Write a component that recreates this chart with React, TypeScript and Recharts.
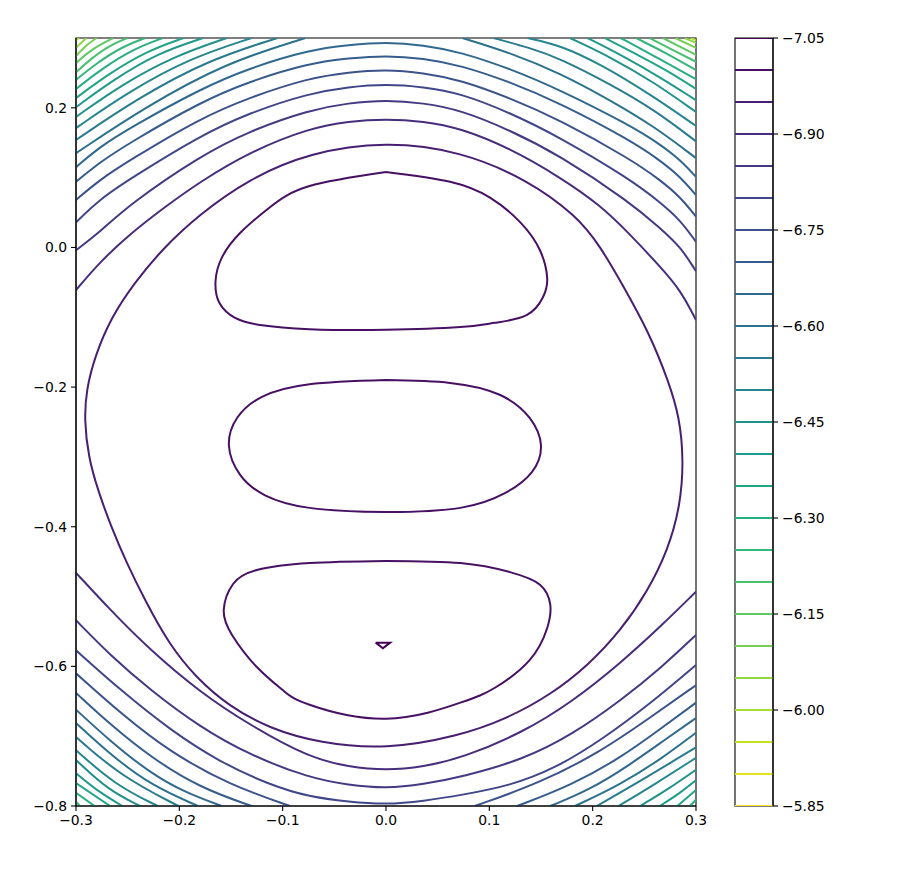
import React from 'react';
import { LineChart, Line, XAxis, YAxis, ReferenceArea } from 'recharts';

type P = [number, number];

// contour levels (colorbar) and their colours
const LEVELS = [-7.05, -7.0, -6.95, -6.9, -6.85, -6.8, -6.75, -6.7, -6.65, -6.6, -6.55, -6.5, -6.45, -6.4, -6.35, -6.3, -6.25, -6.2, -6.15, -6.1, -6.05, -6.0, -5.95, -5.9, -5.85];
const VIRIDIS = ['#440154', '#471063', '#481f70', '#472d7b', '#443983', '#404688', '#3b528b', '#365d8d', '#31688e', '#2c728e', '#287c8e', '#24868e', '#21918c', '#1f9a8a', '#20a486', '#28ae80', '#35b779', '#48c16e', '#5ec962', '#75d054', '#90d743', '#addc30', '#c8e020', '#e5e419', '#fde725'];
const CB_TICKS = [-7.05, -6.9, -6.75, -6.6, -6.45, -6.3, -6.15, -6.0, -5.85];
const X_TICKS = [-0.3, -0.2, -0.1, 0.0, 0.1, 0.2, 0.3];
const Y_TICKS = [-0.8, -0.6, -0.4, -0.2, 0.0, 0.2];

// ---- contour traces (x, y) ----
const c705: P[] = [[-0.010, -0.566], [0.004, -0.566], [-0.003, -0.574], [-0.010, -0.566]];

const c700top: P[] = [[0, 0.108], [0.062, 0.094], [0.101, 0.071], [0.130, 0.036], [0.149, -0.004], [0.156, -0.044], [0.152, -0.071], [0.136, -0.097], [0.105, -0.108], [0.072, -0.114], [0, -0.118], [-0.074, -0.117], [-0.122, -0.111], [-0.146, -0.101], [-0.161, -0.080], [-0.165, -0.049], [-0.159, -0.015], [-0.141, 0.021], [-0.112, 0.058], [-0.074, 0.088], [0, 0.108]];
const c700mid: P[] = [[0, -0.190], [0.062, -0.194], [0.110, -0.211], [0.139, -0.244], [0.150, -0.284], [0.141, -0.322], [0.115, -0.352], [0.072, -0.373], [0, -0.379], [-0.074, -0.373], [-0.117, -0.355], [-0.141, -0.326], [-0.152, -0.284], [-0.144, -0.244], [-0.120, -0.214], [-0.074, -0.196], [0, -0.190]];
const c700bot: P[] = [[0, -0.449], [0.072, -0.452], [0.120, -0.465], [0.149, -0.483], [0.159, -0.512], [0.156, -0.545], [0.139, -0.591], [0.105, -0.631], [0.072, -0.652], [0, -0.675], [-0.074, -0.655], [-0.100, -0.634], [-0.125, -0.601], [-0.149, -0.555], [-0.157, -0.519], [-0.148, -0.482], [-0.125, -0.462], [-0.074, -0.452], [0, -0.449]];

// closed loop, traced once (basisClosed joins the ends)
const c695: P[] = [[0, 0.152], [0.072, 0.138], [0.136, 0.098], [0.185, 0.045], [0.208, 0.000], [0.228, -0.051], [0.255, -0.123], [0.274, -0.194], [0.284, -0.243], [0.288, -0.304], [0.285, -0.369], [0.273, -0.433], [0.253, -0.493], [0.227, -0.549], [0.196, -0.598], [0.160, -0.640], [0.117, -0.675], [0.070, -0.700], [0, -0.719], [-0.064, -0.710], [-0.113, -0.689], [-0.152, -0.657], [-0.184, -0.616], [-0.210, -0.568], [-0.232, -0.509], [-0.251, -0.452], [-0.266, -0.400], [-0.279, -0.347], [-0.288, -0.300], [-0.292, -0.247], [-0.290, -0.204], [-0.282, -0.157], [-0.266, -0.100], [-0.243, -0.050], [-0.217, -0.003], [-0.181, 0.047], [-0.133, 0.098], [-0.074, 0.136]];

const c690top: P[] = [[-0.300, -0.061], [-0.277, -0.021], [-0.248, 0.019], [-0.214, 0.058], [-0.180, 0.094], [-0.132, 0.137], [-0.074, 0.171], [-0.036, 0.181], [0, 0.184], [0.036, 0.181], [0.072, 0.171], [0.120, 0.142], [0.168, 0.101], [0.207, 0.061], [0.236, 0.019], [0.265, -0.027], [0.285, -0.061], [0.300, -0.104]];
const c685top: P[] = [[-0.300, -0.004], [-0.277, 0.022], [-0.248, 0.062], [-0.180, 0.131], [-0.132, 0.167], [-0.074, 0.197], [-0.036, 0.207], [0, 0.211], [0.036, 0.207], [0.072, 0.197], [0.120, 0.168], [0.168, 0.132], [0.236, 0.065], [0.265, 0.028], [0.285, 0.001], [0.300, -0.034]];
const c680top: P[] = [[-0.300, 0.036], [-0.277, 0.069], [-0.248, 0.098], [-0.180, 0.160], [-0.132, 0.193], [-0.074, 0.221], [-0.036, 0.230], [0, 0.234], [0.036, 0.230], [0.072, 0.221], [0.120, 0.193], [0.168, 0.158], [0.236, 0.098], [0.265, 0.065], [0.285, 0.039], [0.300, 0.008]];
const c675top: P[] = [[-0.300, 0.068], [-0.277, 0.097], [-0.248, 0.125], [-0.180, 0.185], [-0.132, 0.215], [-0.074, 0.243], [-0.036, 0.251], [0, 0.255], [0.036, 0.250], [0.072, 0.240], [0.120, 0.214], [0.168, 0.183], [0.236, 0.127], [0.265, 0.097], [0.285, 0.072], [0.300, 0.044]];
const c670top: P[] = [[-0.300, 0.094], [-0.277, 0.122], [-0.248, 0.150], [-0.180, 0.208], [-0.132, 0.238], [-0.074, 0.264], [-0.036, 0.271], [0, 0.275], [0.036, 0.271], [0.072, 0.261], [0.120, 0.237], [0.168, 0.207], [0.236, 0.154], [0.265, 0.125], [0.285, 0.101], [0.300, 0.075]];
const c665top: P[] = [[-0.300, 0.115], [-0.277, 0.144], [-0.248, 0.171], [-0.180, 0.227], [-0.132, 0.257], [-0.074, 0.283], [-0.036, 0.290], [0, 0.294], [0.036, 0.290], [0.072, 0.280], [0.120, 0.256], [0.168, 0.226], [0.236, 0.175], [0.265, 0.148], [0.285, 0.125], [0.300, 0.101]];

const c660tl: P[] = [[-0.300, 0.135], [-0.233, 0.201], [-0.156, 0.264], [-0.078, 0.300]];
const c655tl: P[] = [[-0.300, 0.154], [-0.241, 0.213], [-0.173, 0.268], [-0.105, 0.300]];
const c650tl: P[] = [[-0.300, 0.171], [-0.249, 0.223], [-0.190, 0.271], [-0.130, 0.300]];
const c645tl: P[] = [[-0.300, 0.187], [-0.256, 0.233], [-0.205, 0.274], [-0.154, 0.300]];
const c640tl: P[] = [[-0.300, 0.201], [-0.263, 0.241], [-0.220, 0.279], [-0.177, 0.300]];
const c635tl: P[] = [[-0.300, 0.214], [-0.269, 0.248], [-0.232, 0.281], [-0.196, 0.300]];
const c630tl: P[] = [[-0.300, 0.227], [-0.275, 0.256], [-0.245, 0.284], [-0.216, 0.300]];
const c625tl: P[] = [[-0.300, 0.240], [-0.280, 0.264], [-0.256, 0.287], [-0.233, 0.300]];
const c620tl: P[] = [[-0.300, 0.251], [-0.285, 0.271], [-0.267, 0.290], [-0.250, 0.300]];
const c615tl: P[] = [[-0.300, 0.264], [-0.285, 0.284], [-0.264, 0.300]];
const c610tl: P[] = [[-0.300, 0.274], [-0.291, 0.289], [-0.280, 0.300]];
const c605tl: P[] = [[-0.300, 0.286], [-0.290, 0.300]];
const c600tl: P[] = [[-0.300, 0.297], [-0.297, 0.300]];

const c660tr: P[] = [[0.074, 0.300], [0.120, 0.279], [0.168, 0.250], [0.217, 0.211], [0.260, 0.173], [0.300, 0.128]];
const c655tr: P[] = [[0.104, 0.300], [0.139, 0.286], [0.168, 0.271], [0.217, 0.234], [0.260, 0.197], [0.300, 0.152]];
const c650tr: P[] = [[0.137, 0.300], [0.168, 0.290], [0.207, 0.263], [0.255, 0.220], [0.300, 0.174]];
const c645tr: P[] = [[0.178, 0.300], [0.217, 0.273], [0.260, 0.236], [0.300, 0.194]];
const c640tr: P[] = [[0.195, 0.300], [0.231, 0.273], [0.265, 0.244], [0.300, 0.211]];
const c635tr: P[] = [[0.212, 0.300], [0.246, 0.274], [0.275, 0.251], [0.300, 0.227]];
const c630tr: P[] = [[0.227, 0.300], [0.265, 0.270], [0.300, 0.241]];
const c625tr: P[] = [[0.242, 0.300], [0.273, 0.277], [0.300, 0.254]];
const c620tr: P[] = [[0.255, 0.300], [0.280, 0.281], [0.300, 0.266]];
const c615tr: P[] = [[0.268, 0.300], [0.300, 0.276]];
const c610tr: P[] = [[0.280, 0.300], [0.300, 0.286]];
const c605tr: P[] = [[0.289, 0.300], [0.300, 0.293]];
const c600tr: P[] = [[0.295, 0.300], [0.300, 0.297]];

const c690bot: P[] = [[-0.300, -0.466], [-0.267, -0.519], [-0.228, -0.577], [-0.180, -0.637], [-0.132, -0.684], [-0.074, -0.731], [-0.036, -0.744], [0, -0.749], [0.036, -0.744], [0.074, -0.731], [0.132, -0.695], [0.180, -0.651], [0.228, -0.594], [0.267, -0.541], [0.300, -0.493]];
const c685bot: P[] = [[-0.300, -0.534], [-0.267, -0.584], [-0.228, -0.634], [-0.180, -0.687], [-0.132, -0.727], [-0.074, -0.760], [-0.036, -0.770], [0, -0.775], [0.036, -0.769], [0.074, -0.758], [0.132, -0.734], [0.180, -0.698], [0.228, -0.648], [0.267, -0.601], [0.300, -0.555]];
const c680bot: P[] = [[-0.300, -0.577], [-0.257, -0.634], [-0.209, -0.691], [-0.161, -0.737], [-0.112, -0.770], [-0.074, -0.787], [-0.036, -0.794], [0, -0.798], [0.036, -0.793], [0.074, -0.784], [0.120, -0.771], [0.164, -0.746], [0.209, -0.705], [0.257, -0.652], [0.300, -0.598]];

const c675bl: P[] = [[-0.300, -0.610], [-0.257, -0.667], [-0.209, -0.723], [-0.151, -0.770], [-0.093, -0.800]];
const c670bl: P[] = [[-0.300, -0.638], [-0.267, -0.683], [-0.228, -0.730], [-0.180, -0.774], [-0.130, -0.800]];
const c665bl: P[] = [[-0.300, -0.662], [-0.267, -0.707], [-0.228, -0.753], [-0.194, -0.781], [-0.159, -0.800]];
const c660bl: P[] = [[-0.300, -0.681], [-0.267, -0.726], [-0.228, -0.770], [-0.182, -0.800]];
const c655bl: P[] = [[-0.300, -0.701], [-0.257, -0.757], [-0.201, -0.800]];
const c650bl: P[] = [[-0.300, -0.720], [-0.262, -0.770], [-0.221, -0.800]];
const c645bl: P[] = [[-0.300, -0.734], [-0.269, -0.777], [-0.238, -0.800]];
const c640bl: P[] = [[-0.300, -0.753], [-0.277, -0.781], [-0.255, -0.800]];
const c635bl: P[] = [[-0.300, -0.767], [-0.267, -0.800]];
const c630bl: P[] = [[-0.300, -0.781], [-0.282, -0.800]];
const c625bl: P[] = [[-0.300, -0.794], [-0.296, -0.800]];

const c675br: P[] = [[0.086, -0.800], [0.149, -0.767], [0.207, -0.723], [0.255, -0.674], [0.300, -0.627]];
const c670br: P[] = [[0.127, -0.800], [0.180, -0.770], [0.228, -0.730], [0.267, -0.688], [0.300, -0.652]];
const c665br: P[] = [[0.159, -0.800], [0.197, -0.777], [0.236, -0.741], [0.270, -0.705], [0.300, -0.674]];
const c660br: P[] = [[0.183, -0.800], [0.226, -0.770], [0.265, -0.734], [0.300, -0.695]];
const c655br: P[] = [[0.204, -0.800], [0.251, -0.760], [0.300, -0.716]];
const c650br: P[] = [[0.225, -0.800], [0.260, -0.769], [0.300, -0.731]];
const c645br: P[] = [[0.246, -0.800], [0.275, -0.774], [0.300, -0.748]];
const c640br: P[] = [[0.265, -0.800], [0.285, -0.781], [0.300, -0.763]];
const c635br: P[] = [[0.282, -0.800], [0.300, -0.777]];
const c630br: P[] = [[0.294, -0.800], [0.300, -0.791]];

type Curve = 'linear' | 'natural' | 'basis' | 'basisClosed';
const B: Curve = 'basis';
const CONTOURS: { level: number; pts: P[]; curve: Curve }[] = [
  { level: -7.05, pts: c705, curve: 'linear' },
  { level: -7.0, pts: c700top, curve: 'natural' }, { level: -7.0, pts: c700mid, curve: 'natural' }, { level: -7.0, pts: c700bot, curve: 'natural' },
  { level: -6.95, pts: c695, curve: 'basisClosed' },
  { level: -6.9, pts: c690top, curve: B }, { level: -6.9, pts: c690bot, curve: B },
  { level: -6.85, pts: c685top, curve: B }, { level: -6.85, pts: c685bot, curve: B },
  { level: -6.8, pts: c680top, curve: B }, { level: -6.8, pts: c680bot, curve: B },
  { level: -6.75, pts: c675top, curve: B }, { level: -6.75, pts: c675bl, curve: B }, { level: -6.75, pts: c675br, curve: B },
  { level: -6.7, pts: c670top, curve: B }, { level: -6.7, pts: c670bl, curve: B }, { level: -6.7, pts: c670br, curve: B },
  { level: -6.65, pts: c665top, curve: B }, { level: -6.65, pts: c665bl, curve: B }, { level: -6.65, pts: c665br, curve: B },
  { level: -6.6, pts: c660tl, curve: B }, { level: -6.6, pts: c660tr, curve: B }, { level: -6.6, pts: c660bl, curve: B }, { level: -6.6, pts: c660br, curve: B },
  { level: -6.55, pts: c655tl, curve: B }, { level: -6.55, pts: c655tr, curve: B }, { level: -6.55, pts: c655bl, curve: B }, { level: -6.55, pts: c655br, curve: B },
  { level: -6.5, pts: c650tl, curve: B }, { level: -6.5, pts: c650tr, curve: B }, { level: -6.5, pts: c650bl, curve: B }, { level: -6.5, pts: c650br, curve: B },
  { level: -6.45, pts: c645tl, curve: B }, { level: -6.45, pts: c645tr, curve: B }, { level: -6.45, pts: c645bl, curve: B }, { level: -6.45, pts: c645br, curve: B },
  { level: -6.4, pts: c640tl, curve: B }, { level: -6.4, pts: c640tr, curve: B }, { level: -6.4, pts: c640bl, curve: B }, { level: -6.4, pts: c640br, curve: B },
  { level: -6.35, pts: c635tl, curve: B }, { level: -6.35, pts: c635tr, curve: B }, { level: -6.35, pts: c635bl, curve: B }, { level: -6.35, pts: c635br, curve: B },
  { level: -6.3, pts: c630tl, curve: B }, { level: -6.3, pts: c630tr, curve: B }, { level: -6.3, pts: c630bl, curve: B }, { level: -6.3, pts: c630br, curve: B },
  { level: -6.25, pts: c625tl, curve: B }, { level: -6.25, pts: c625tr, curve: B }, { level: -6.25, pts: c625bl, curve: B },
  { level: -6.2, pts: c620tl, curve: B }, { level: -6.2, pts: c620tr, curve: B },
  { level: -6.15, pts: c615tl, curve: B }, { level: -6.15, pts: c615tr, curve: B },
  { level: -6.1, pts: c610tl, curve: B }, { level: -6.1, pts: c610tr, curve: B },
  { level: -6.05, pts: c605tl, curve: B }, { level: -6.05, pts: c605tr, curve: B },
  { level: -6.0, pts: c600tl, curve: B }, { level: -6.0, pts: c600tr, curve: B },
];

const colorOf = (level: number) => VIRIDIS[Math.round((level - LEVELS[0]) / 0.05)];
const minus = (s: string) => s.replace('-', '\u2212');
const fmt1 = (v: number) => minus(v.toFixed(1));
const fmt2 = (v: number) => minus(v.toFixed(2));

const FONT = { fill: '#000', fontSize: 13.9, fontFamily: 'DejaVu Sans' };

export default function App() {
  return (
    <div style={{ position: 'absolute', left: 0, top: 0, width: 898, height: 879, background: '#fff' }}>
      <div style={{ position: 'absolute', left: 0, top: 0 }}>
        <LineChart width={720} height={879} margin={{ top: 38, right: 24, bottom: 43, left: 0 }}>
          <XAxis type="number" dataKey="x" domain={[-0.3, 0.3]} ticks={X_TICKS} interval={0} allowDataOverflow
            tickFormatter={fmt1} tickSize={5} tickMargin={4} height={30}
            axisLine={{ stroke: '#000', strokeWidth: 1.1 }} tickLine={{ stroke: '#000', strokeWidth: 1.1 }} tick={FONT} />
          <YAxis type="number" dataKey="y" domain={[-0.8, 0.3]} ticks={Y_TICKS} interval={0} allowDataOverflow
            tickFormatter={fmt1} tickSize={5} tickMargin={4} width={76}
            axisLine={{ stroke: '#000', strokeWidth: 1.1 }} tickLine={{ stroke: '#000', strokeWidth: 1.1 }} tick={FONT} />
          {CONTOURS.map((c, i) => (
            <Line key={'c' + i} name={'c' + i} data={c.pts.map(([x, y]) => ({ x, y }))} dataKey="y"
              type={c.curve} stroke={colorOf(c.level)} strokeWidth={2} dot={false} activeDot={false}
              isAnimationActive={false} />
          ))}
          <ReferenceArea x1={-0.3} x2={0.3} y1={-0.8} y2={0.3} fill="none" stroke="#000" strokeWidth={1.1} />
        </LineChart>
      </div>
      <div style={{ position: 'absolute', left: 0, top: 0 }}>
        <LineChart width={898} height={879} margin={{ top: 38, right: 0, bottom: 73, left: 735 }}>
          <XAxis type="number" dataKey="x" domain={[0, 1]} hide allowDataOverflow />
          <YAxis type="number" dataKey="y" orientation="right" domain={[-7.05, -5.85]} reversed allowDataOverflow
            ticks={CB_TICKS} interval={0} tickFormatter={fmt2} tickSize={5} tickMargin={4} width={125}
            axisLine={{ stroke: '#000', strokeWidth: 1.1 }} tickLine={{ stroke: '#000', strokeWidth: 1.1 }} tick={FONT} />
          {LEVELS.map((l, i) => (
            <Line key={'l' + i} name={'l' + i} data={[{ x: 0, y: l }, { x: 1, y: l }]} dataKey="y" type="linear"
              stroke={VIRIDIS[i]} strokeWidth={2} dot={false} activeDot={false} isAnimationActive={false} />
          ))}
          <ReferenceArea x1={0} x2={1} y1={-7.05} y2={-5.85} fill="none" stroke="#000" strokeWidth={1.1} />
        </LineChart>
      </div>
    </div>
  );
}
